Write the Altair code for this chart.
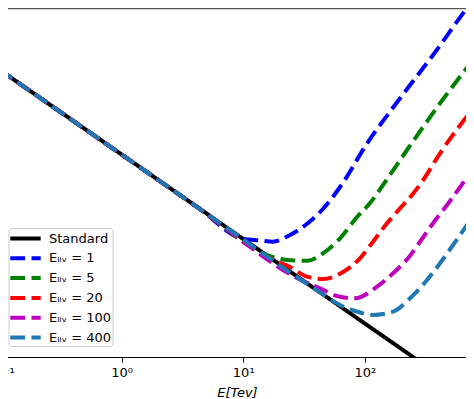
import altair as alt
import pandas as pd

# ---- data (E in TeV, y = arbitrary log-scale units) ----
series_names = ["Standard", "Eₗᵢᵥ = 1", "Eₗᵢᵥ = 5", "Eₗᵢᵥ = 20", "Eₗᵢᵥ = 100", "Eₗᵢᵥ = 400"]
colors = ["#000000", "#0000ff", "#008000", "#ff0000", "#bf00bf", "#1f77b4"]

std_E = [0.1, 1, 10, 100, 1000]
std_y = [2.87, 2.025, 1.18, 0.335, -0.51]

liv1_E = [0.1, 4.41, 9.96, 13.75, 17.59, 24.26, 34.11, 44.46, 62.54, 104.3, 194.8, 363.9, 706.0, 790.7]
liv1_y = [2.87, 1.48, 1.18, 1.165, 1.153, 1.22, 1.34, 1.47, 1.70, 2.135, 2.587, 3.02, 3.503, 3.58]

liv5_E = [0.1, 4.41, 15.69, 22.93, 33.47, 45.32, 62.54, 86.28, 110.4, 141.1, 222.3, 415.4, 790.7]
liv5_y = [2.87, 1.48, 1.02, 0.97, 0.963, 1.037, 1.187, 1.40, 1.54, 1.72, 2.07, 2.537, 2.985]

liv20_E = [0.1, 4.41, 18.26, 24.26, 33.47, 45.32, 66.19, 91.3, 116.8, 152.3, 194.8, 244.4, 295.4, 415.4, 790.7]
liv20_y = [2.87, 1.48, 0.96, 0.90, 0.803, 0.78, 0.85, 0.987, 1.153, 1.337, 1.487, 1.62, 1.753, 2.037, 2.50]

liv100_E = [0.1, 4.41, 32.23, 42.81, 59.08, 83.07, 126.0, 170.6, 226.5, 284.4, 363.9, 474.2, 584.1, 790.7]
liv100_y = [2.87, 1.48, 0.75, 0.687, 0.61, 0.587, 0.703, 0.837, 0.987, 1.153, 1.337, 1.52, 1.67, 1.90]

liv400_E = [0.1, 4.41, 42.81, 62.54, 83.07, 116.8, 170.6, 235.3, 324.8, 415.4, 531.3, 692.6, 790.7]
liv400_y = [2.87, 1.48, 0.646, 0.52, 0.46, 0.42, 0.453, 0.587, 0.77, 0.937, 1.12, 1.32, 1.42]

major_ticks = [0.1, 1, 10, 100]
minor_ticks = [0.2, 0.3, 0.4, 0.5, 0.6, 0.7, 0.8, 0.9,
               2, 3, 4, 5, 6, 7, 8, 9,
               20, 30, 40, 50, 60, 70, 80, 90,
               200, 300, 400, 500, 600, 700]

all_E = [std_E, liv1_E, liv5_E, liv20_E, liv100_E, liv400_E]
all_y = [std_y, liv1_y, liv5_y, liv20_y, liv100_y, liv400_y]

rows = []
for name, es, ys in zip(series_names, all_E, all_y):
    for e, v in zip(es, ys):
        rows.append({"E": e, "y": v, "series": name})
df = pd.DataFrame(rows)

dash = [14.8, 6.4]
dashes = [[1, 0], dash, dash, dash, dash, dash]

xscale = alt.Scale(type="log", domain=[0.1, 790], nice=False)
yscale = alt.Scale(domain=[0, 3.49], nice=False, zero=False)

legend = alt.Legend(
    title=None, orient="none", legendX=8.5, legendY=220,
    padding=0.5, fillColor="white", strokeColor="#cccccc", cornerRadius=3,
    labelFont="DejaVu Sans", labelFontSize=13, labelColor="black",
    symbolType="M-1.9,0H1.9", symbolSize=256, symbolStrokeWidth=4,
    rowPadding=1.8, symbolOffset=6.5, labelOffset=13.5,
)

major_axis = alt.Axis(
    values=major_ticks, title="E[Tev]", titleFontStyle="italic", titleFont="DejaVu Sans",
    titleFontSize=13, titleFontWeight="normal", titleColor="black", titlePadding=7,
    labelExpr="datum.value < 0.5 ? '10⁻¹' : datum.value < 5 ? '10⁰' : datum.value < 50 ? '10¹' : '10²'",
    labelFont="DejaVu Sans", labelFontSize=13, labelColor="black", labelFlush=False,
    labelOverlap=False, labelPadding=4, tickSize=5, tickColor="black", tickWidth=1,
    domainColor="black", domainWidth=1.2, grid=False,
)
minor_axis = alt.Axis(
    values=minor_ticks, labels=False, title=None, tickSize=3, tickColor="black",
    tickWidth=0.8, domain=False, grid=False,
)
top_axis = alt.Axis(
    orient="top", labels=False, ticks=False, title=None, domainColor="#555555",
    domainWidth=1.5, grid=False,
)

axes = [major_axis, minor_axis, top_axis, None, None, None]

layers = []
for name, ax in zip(series_names, axes):
    layers.append(
        alt.Chart(df)
        .transform_filter(alt.datum.series == name)
        .mark_line(clip=True, strokeWidth=4, interpolate="monotone")
        .encode(
            x=alt.X("E:Q", scale=xscale, axis=ax),
            y=alt.Y("y:Q", scale=yscale, axis=None),
            color=alt.Color("series:N", scale=alt.Scale(domain=series_names, range=colors), legend=legend),
            strokeDash=alt.StrokeDash("series:N", scale=alt.Scale(domain=series_names, range=dashes), legend=legend),
        )
    )

chart = (
    alt.layer(*layers)
    .resolve_axis(x="independent")
    .properties(
        width=474, height=349,
        autosize=alt.AutoSizeParams(type="none"),
        padding={"left": -8, "top": 0, "right": -8, "bottom": 46},
    )
    .configure_view(stroke=None)
    .configure(font="DejaVu Sans")
)

chart.save("out.html", embed_options={"renderer": "svg", "actions": False})
